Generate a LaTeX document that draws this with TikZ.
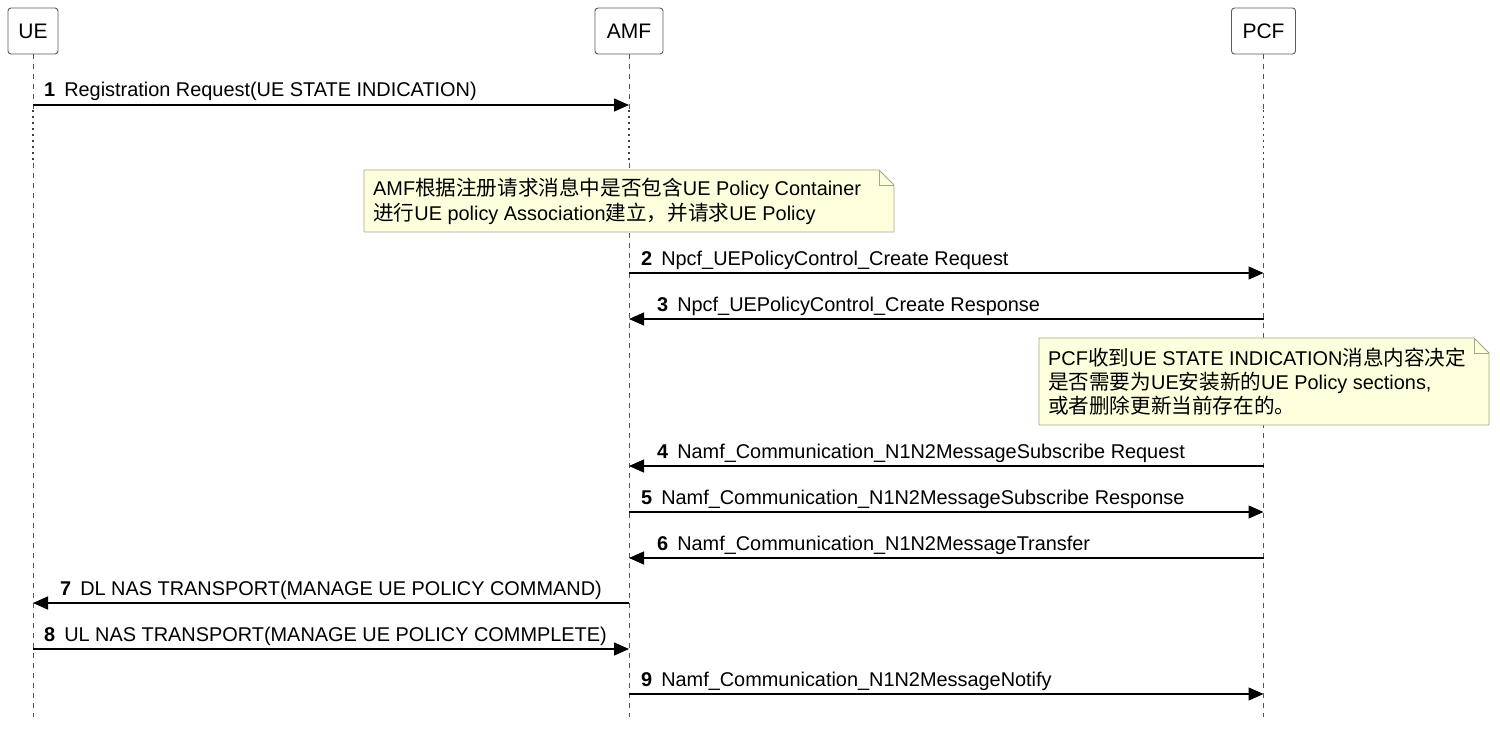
\documentclass[tikz,border=0pt]{standalone}
\usepackage{fontspec}
\setmainfont{Liberation Sans}
\newfontfamily\cjk[Scale=1.035]{Noto Sans CJK SC}
\usetikzlibrary{arrows.meta}
\definecolor{notefill}{HTML}{FEFFDD}
\definecolor{noteline}{HTML}{A8A880}
\definecolor{lifecol}{HTML}{555555}
\definecolor{boxline}{HTML}{5C5C5C}
\newcommand{\msgsize}{\fontsize{19.9}{24}\selectfont}
\begin{document}
\begin{tikzpicture}[x=1pt,y=-1pt,
  partbox/.style={draw=boxline,line width=0.9pt,fill=white,rounded corners=3pt,minimum height=46pt,inner sep=0pt,font=\fontsize{21}{24}\selectfont},
  lifeline/.style={draw=lifecol,line width=0.8pt,dash pattern=on 5pt off 5pt},
  delayline/.style={draw=black!75,line width=1.3pt,dash pattern=on 1.6pt off 4.4pt},
  msg/.style={draw=black,line width=1.3pt,-{Triangle[length=15pt,width=13pt]}},
  lab/.style={inner sep=0pt,anchor=base west,font=\msgsize},
  notebox/.style={fill=notefill,draw=noteline,line width=0.9pt},
  notetxt/.style={inner sep=0pt,anchor=base west,font=\msgsize}]
\useasboundingbox[fill=white] (0,0) rectangle (1500,733);

% participants
\node[partbox,minimum width=50pt] (ue) at (33,31) {UE};
\node[partbox,minimum width=68pt] (amf) at (629,31) {AMF};
\node[partbox,minimum width=64pt] (pcf) at (1263.5,31) {PCF};

% vertical reference coordinates
\coordinate (d1) at (0,110);
\coordinate (d2) at (0,163);
\coordinate (end) at (0,717);

% lifelines
\foreach \p in {ue,amf,pcf}{
  \draw[lifeline] (\p.south) -- (\p |- d1);
  \draw[delayline] (\p |- d1) -- (\p |- d2);
  \draw[lifeline] (\p |- d2) -- (\p |- end);
}

% message rows
\coordinate (y1) at (0,105);
\coordinate (y2) at (0,273);
\coordinate (y3) at (0,319);
\coordinate (y4) at (0,466);
\coordinate (y5) at (0,512);
\coordinate (y6) at (0,558);
\coordinate (y7) at (0,603);
\coordinate (y8) at (0,649);
\coordinate (y9) at (0,694);

\draw[msg] (ue |- y1) -- (amf |- y1);
\node[lab] (l1) at ([xshift=11pt,yshift=8pt]ue |- y1) {\textbf{1}\hspace{9pt}Registration Request(UE STATE INDICATION)};

\draw[msg] (amf |- y2) -- (pcf |- y2);
\node[lab] (l2) at ([xshift=12pt,yshift=8pt]amf |- y2) {\textbf{2}\hspace{9pt}Npcf\_UEPolicyControl\_Create Request};

\draw[msg] (pcf |- y3) -- (amf |- y3);
\node[lab] (l3) at ([xshift=28pt,yshift=8pt]amf |- y3) {\textbf{3}\hspace{9pt}Npcf\_UEPolicyControl\_Create Response};

\draw[msg] (pcf |- y4) -- (amf |- y4);
\node[lab] (l4) at ([xshift=28pt,yshift=8pt]amf |- y4) {\textbf{4}\hspace{9pt}Namf\_Communication\_N1N2MessageSubscribe Request};

\draw[msg] (amf |- y5) -- (pcf |- y5);
\node[lab] (l5) at ([xshift=12pt,yshift=8pt]amf |- y5) {\textbf{5}\hspace{9pt}Namf\_Communication\_N1N2MessageSubscribe Response};

\draw[msg] (pcf |- y6) -- (amf |- y6);
\node[lab] (l6) at ([xshift=28pt,yshift=8pt]amf |- y6) {\textbf{6}\hspace{9pt}Namf\_Communication\_N1N2MessageTransfer};

\draw[msg] (amf |- y7) -- (ue |- y7);
\node[lab] (l7) at ([xshift=27pt,yshift=8pt]ue |- y7) {\textbf{7}\hspace{9pt}DL NAS TRANSPORT(MANAGE UE POLICY COMMAND)};

\draw[msg] (ue |- y8) -- (amf |- y8);
\node[lab] (l8) at ([xshift=11pt,yshift=8pt]ue |- y8) {\textbf{8}\hspace{9pt}UL NAS TRANSPORT(MANAGE UE POLICY COMMPLETE)};

\draw[msg] (amf |- y9) -- (pcf |- y9);
\node[lab] (l9) at ([xshift=12pt,yshift=8pt]amf |- y9) {\textbf{9}\hspace{9pt}Namf\_Communication\_N1N2MessageNotify};

% note 1
\path[notebox] (364,170) -- (879,170) -- (894,185) -- (894,232) -- (364,232) -- cycle;
\draw[noteline,line width=0.9pt] (879,170) -- (879,185) -- (894,185);
\node[notetxt] (n1a) at (373,196) {AMF{\cjk 根据注册请求消息中是否包含}UE Policy Container};
\node[notetxt] (n1b) at (373,220) {{\cjk 进行}UE policy Association{\cjk 建立，并请求}UE Policy};

% note 2
\path[notebox] (1039,338) -- (1474,338) -- (1489,353) -- (1489,425) -- (1039,425) -- cycle;
\draw[noteline,line width=0.9pt] (1474,338) -- (1474,353) -- (1489,353);
\node[notetxt] (n2a) at (1048,365) {PCF{\cjk 收到}UE STATE INDICATION{\cjk 消息内容决定}};
\node[notetxt] (n2b) at (1048,389) {{\cjk 是否需要为}UE{\cjk 安装新的}UE Policy sections,};
\node[notetxt] (n2c) at (1048,413) {{\cjk 或者删除更新当前存在的。}};
\end{tikzpicture}
\end{document}
